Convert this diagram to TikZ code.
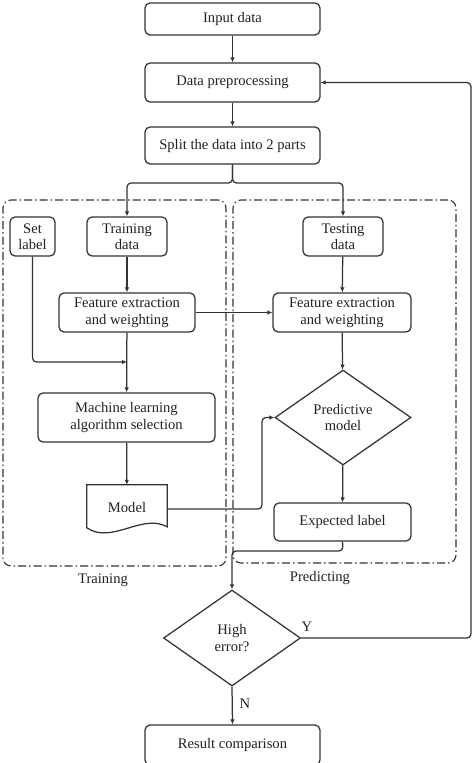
\documentclass[tikz,border=0pt]{standalone}
\usepackage{fontspec}
\setmainfont{Liberation Serif}
\usetikzlibrary{shapes.geometric,arrows.meta,calc}
\definecolor{lc}{HTML}{333333}
\definecolor{tc}{HTML}{222222}
\begin{document}
\begin{tikzpicture}[x=1pt,y=-1pt,
  every node/.style={text=tc,font=\fontsize{14.6}{16.5}\selectfont},
  box/.style={draw=lc,line width=1.25pt,rounded corners=5pt,align=center,inner sep=0pt},
  dia/.style={draw=lc,line width=1.25pt,diamond,aspect=1.4,align=center,inner sep=0pt},
  arr/.style={draw=lc,line width=1.25pt,-{Latex[length=5pt,width=4.5pt]}},
  ln/.style={draw=lc,line width=1.25pt},
  group/.style={draw=lc,line width=1.1pt,rounded corners=8pt,dash pattern=on 8pt off 3pt on 1.5pt off 3pt,inner sep=0pt}]
\useasboundingbox[fill=white] (0,0) rectangle (474,763);

% groups
\node[group,minimum width=223pt,minimum height=366pt] (gtrain) at (114.5,383) {};
\node[group,minimum width=223pt,minimum height=363pt] (gpred) at (344.5,381.5) {};
\node (ltrain) at (103,580) {Training};
\node (lpred) at (320,578) {Predicting};

% main column
\node[box,minimum width=175pt,minimum height=32pt] (input) at (232.5,19) {Input data};
\node[box,minimum width=175pt,minimum height=39pt] (prep) at (232.5,82.5) {Data preprocessing};
\node[box,minimum width=175pt,minimum height=37pt] (split) at (232.5,145.5) {Split the data into 2 parts};

% training
\node[box,minimum width=45pt,minimum height=39pt] (setl) at (32.5,236.5) {Set\\label};
\node[box,minimum width=80pt,minimum height=39pt] (train) at (127,236.5) {Training\\data};
\node[box,minimum width=136pt,minimum height=39pt] (feat1) at (127,312.5) {Feature extraction\\and weighting};
\node[box,minimum width=177pt,minimum height=49pt] (ml) at (126.5,417.5) {Machine learning\\algorithm selection};
\node[minimum width=80pt,minimum height=45pt,inner sep=0pt] (model) at (127,507.5) {Model};
\draw[ln] (model.north west) -- (model.north east) -- ($(model.north east)+(0,42)$)
  .. controls ($(model.north east)+(-25,28)$) and ($(model.north west)+(25,60)$) .. ($(model.north west)+(0,43)$) -- cycle;

% predicting
\node[box,minimum width=80pt,minimum height=39pt] (test) at (343,236.5) {Testing\\data};
\node[box,minimum width=138pt,minimum height=39pt] (feat2) at (342,312.5) {Feature extraction\\and weighting};
\node[dia,minimum width=136pt,minimum height=95pt] (pred) at (343,417.5) {Predictive\\model};
\node[box,minimum width=137pt,minimum height=38pt] (exp) at (342.5,522) {Expected label};

% decision
\node[dia,minimum width=137pt,minimum height=96pt] (hi) at (232,638) {High\\error?};
\node[box,minimum width=175pt,minimum height=40pt] (res) at (232.5,745) {Result comparison};

% coordinates
\coordinate (fork) at (232.5,183);
\coordinate (join) at (127,362);
\coordinate (mbend) at (262,509);
\coordinate (ebend) at (343,551);
\coordinate (rb) at (471,360);

% connectors
\draw[arr] (input) -- (prep);
\draw[arr] (prep) -- (split);
\draw[arr,rounded corners=4pt] (split.south) -- (fork) -| (train.north);
\draw[arr,rounded corners=4pt] (split.south) -- (fork) -| (test.north);
\draw[arr] (train) -- (feat1);
\draw[arr,rounded corners=4pt] (setl.south) |- (join);
\draw[arr] (feat1) -- (ml);
\draw[arr] (ml) -- (model);
\draw[arr] (feat1.east) -- (feat2.west);
\draw[arr] (test) -- (feat2);
\draw[arr] (feat2) -- (pred);
\draw[arr] (pred) -- (exp);
\draw[arr,rounded corners=4pt] (model.east |- mbend) -- (mbend) |- (pred.west);
\draw[arr,rounded corners=4pt] (exp.south) -- (ebend) -| (hi.north);
\draw[arr,rounded corners=4pt] (hi.east) -| (rb) |- (prep.east);
\draw[arr] (hi.south) -- (res.north);
\node (ylab) at (307,627) {Y};
\node (nlab) at (245,704) {N};
\end{tikzpicture}
\end{document}
